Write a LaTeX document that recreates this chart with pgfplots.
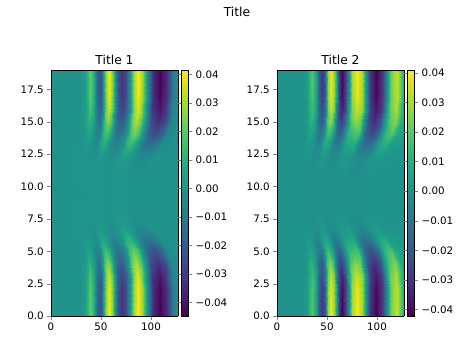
\documentclass[border=0pt]{standalone}
\usepackage{fontspec}
\setmainfont{DejaVu Sans}
\usepackage{pgfplots}
\usepackage{pgfplotstable}
\pgfplotsset{compat=1.18}
\pgfplotstableread{
x y v
0 0 0
30 0 0
34 0 .004
37 0 .013
39 0 .021
42 0 .012
44.5 0 0
46.5 0 -.017
49 0 -.024
51 0 -.015
52.5 0 0
55 0 .028
58 0 .041
61 0 .028
64 0 0
67 0 -.024
71 0 -.033
75 0 -.024
79 0 0
83 0 .03
87 0 .042
91 0 .03
96 0 0
102 0 -.035
109 0 -.0445
116 0 -.033
122 0 -.008
127 0 0
0 2 0
30 2 0
34 2 .0037
37 2 .0121
39 2 .0195
42 2 .0112
44.5 2 0
46.5 2 -.0158
49 2 -.0223
51 2 -.0143
52.5 2 0
55 2 .0266
58 2 .039
61 2 .0266
64 2 0
67 2 -.0228
71 2 -.0314
75 2 -.0228
79 2 0
83 2 .0291
87 2 .0407
91 2 .0291
96 2 0
102 2 -.034
109 2 -.0432
116 2 -.032
122 2 -.0078
127 2 0
0 3 0
29.9 3 0
33.8 3 .0032
36.8 3 .0104
38.8 3 .0168
41.8 3 .0096
44.3 3 0
46.3 3 -.0136
48.8 3 -.0192
50.7 3 -.0128
52.2 3 0
54.7 3 .0238
57.7 3 .0349
60.7 3 .0238
63.7 3 0
66.7 3 -.0204
70.6 3 -.0281
74.6 3 -.0204
78.6 3 0
82.6 3 .027
86.6 3 .0378
90.5 3 .027
95.5 3 0
101.5 3 -.0315
108.5 3 -.04
115.4 3 -.0297
121.4 3 -.0072
127 3 0
0 3.5 0
29.7 3.5 0
33.7 3.5 .0027
36.6 3.5 .0088
38.6 3.5 .0143
41.6 3.5 .0082
44.1 3.5 0
46 3.5 -.0116
48.5 3.5 -.0163
50.5 3.5 -.0114
52 3.5 0
54.5 3.5 .0213
57.4 3.5 .0312
60.4 3.5 .0213
63.4 3.5 0
66.3 3.5 -.0182
70.3 3.5 -.0251
74.3 3.5 -.0182
78.2 3.5 0
82.2 3.5 .0249
86.1 3.5 .0349
90.1 3.5 .0249
95 3.5 0
101 3.5 -.0291
107.9 3.5 -.0369
114.8 3.5 -.0274
120.8 3.5 -.0066
127 3.5 0
0 4 0
29.4 4 0
33.3 4 .0022
36.3 4 .0072
38.2 4 .0116
41.2 4 .0066
43.6 4 0
45.6 4 -.0094
48 4 -.0132
50 4 -.0098
51.5 4 0
53.9 4 .0182
56.8 4 .0267
59.8 4 .0182
62.7 4 0
65.7 4 -.0156
69.6 4 -.0215
73.5 4 -.0156
77.4 4 0
81.3 4 .0225
85.3 4 .0315
89.2 4 .0225
94.1 4 0
100 4 -.0263
106.8 4 -.0334
113.7 4 -.0248
119.6 4 -.006
127 4 0
0 4.5 0
29.1 4.5 0
33 4.5 .0016
35.9 4.5 .0052
37.8 4.5 .0084
40.7 4.5 .0048
43.2 4.5 0
45.1 4.5 -.0068
47.5 4.5 -.0096
49.5 4.5 -.0077
50.9 4.5 0
53.4 4.5 .0143
56.3 4.5 .0209
59.2 4.5 .0143
62.1 4.5 0
65 4.5 -.0122
68.9 4.5 -.0168
72.8 4.5 -.0122
76.6 4.5 0
80.5 4.5 .0195
84.4 4.5 .0273
88.3 4.5 .0195
93.1 4.5 0
98.9 4.5 -.0228
105.7 4.5 -.0289
112.5 4.5 -.0215
118.3 4.5 -.0052
127 4.5 0
0 5 0
28.5 5 0
32.3 5 .001
35.2 5 .0033
37.1 5 .0053
39.9 5 .003
42.3 5 0
44.2 5 -.0043
46.6 5 -.006
48.5 5 -.0057
49.9 5 0
52.3 5 .0106
55.1 5 .0156
58 5 .0106
60.8 5 0
63.7 5 -.0091
67.5 5 -.0125
71.3 5 -.0091
75 5 0
78.9 5 .0159
82.7 5 .0223
86.5 5 .0159
91.2 5 0
96.9 5 -.0186
103.6 5 -.0236
110.2 5 -.0175
115.9 5 -.0042
127 5 0
0 5.5 0
27.6 5.5 0
31.3 5.5 .0006
34 5.5 .002
35.9 5.5 .0032
38.6 5.5 .0018
40.9 5.5 0
42.8 5.5 -.0026
45.1 5.5 -.0036
46.9 5.5 -.0038
48.3 5.5 0
50.6 5.5 .007
53.4 5.5 .0103
56.1 5.5 .007
58.9 5.5 0
61.6 5.5 -.006
65.3 5.5 -.0083
69 5.5 -.006
72.7 5.5 0
76.4 5.5 .0114
80 5.5 .016
83.7 5.5 .0114
88.3 5.5 0
93.8 5.5 -.0133
100.3 5.5 -.0169
106.7 5.5 -.0125
112.2 5.5 -.003
127 5.5 0
0 6 0
26.7 6 0
30.3 6 .0003
32.9 6 .001
34.7 6 .0017
37.4 6 .001
39.6 6 0
41.4 6 -.0014
43.6 6 -.0019
45.4 6 -.0023
46.7 6 0
49 6 .0042
51.6 6 .0062
54.3 6 .0042
57 6 0
59.6 6 -.0036
63.2 6 -.005
66.8 6 -.0036
70.3 6 0
73.9 6 .0075
77.4 6 .0105
81 6 .0075
85.4 6 0
90.8 6 -.0088
97 6 -.0111
103.2 6 -.0083
108.6 6 -.002
127 6 0
0 6.5 0
25.8 6.5 0
29.2 6.5 .0002
31.8 6.5 .0005
33.5 6.5 .0008
36.1 6.5 .0005
38.3 6.5 0
40 6.5 -.0007
42.1 6.5 -.001
43.9 6.5 -.0012
45.2 6.5 0
47.3 6.5 .0022
49.9 6.5 .0033
52.5 6.5 .0022
55 6.5 0
57.6 6.5 -.0019
61.1 6.5 -.0026
64.5 6.5 -.0019
67.9 6.5 0
71.4 6.5 .0039
74.8 6.5 .0055
78.3 6.5 .0039
82.6 6.5 0
87.7 6.5 -.0046
93.7 6.5 -.0058
99.8 6.5 -.0043
104.9 6.5 -.001
127 6.5 0
0 7 0
24.9 7 0
28.2 7 .0001
30.7 7 .0003
32.4 7 .0004
34.9 7 .0002
36.9 7 0
38.6 7 -.0003
40.7 7 -.0005
42.3 7 -.0006
43.6 7 0
45.7 7 .0011
48.1 7 .0016
50.6 7 .0011
53.1 7 0
55.6 7 -.001
58.9 7 -.0013
62.3 7 -.001
65.6 7 0
68.9 7 .0018
72.2 7 .0025
75.5 7 .0018
79.7 7 0
84.7 7 -.0021
90.5 7 -.0027
96.3 7 -.002
101.3 7 -.0005
127 7 0
0 8 0
23.4 8 0
26.5 8 0
28.9 8 .0001
30.4 8 .0001
32.8 8 .0001
34.7 8 0
36.3 8 -.0001
38.2 8 -.0001
39.8 8 -.0002
41 8 0
42.9 8 .0003
45.2 8 .0004
47.6 8 .0003
49.9 8 0
52.3 8 -.0002
55.4 8 -.0003
58.5 8 -.0002
61.6 8 0
64.7 8 .0005
67.9 8 .0006
71 8 .0005
74.9 8 0
79.6 8 -.0005
85 8 -.0007
90.5 8 -.0005
95.2 8 -.0001
127 8 0
0 9.5 0
23.4 9.5 0
26.5 9.5 0
28.9 9.5 0
30.4 9.5 0
32.8 9.5 0
34.7 9.5 0
36.3 9.5 0
38.2 9.5 0
39.8 9.5 0
41 9.5 0
42.9 9.5 0
45.2 9.5 0
47.6 9.5 0
49.9 9.5 0
52.3 9.5 0
55.4 9.5 0
58.5 9.5 0
61.6 9.5 0
64.7 9.5 0
67.9 9.5 0
71 9.5 0
74.9 9.5 0
79.6 9.5 0
85 9.5 0
90.5 9.5 0
95.2 9.5 0
127 9.5 0
}\tabA
\pgfplotstableread{
x y v
0 0 0
26 0 0
30 0 .004
33 0 .014
35 0 .019
38 0 .01
40 0 0
42 0 -.02
45 0 -.03
47.5 0 -.02
49 0 0
51 0 .028
54 0 .04
57 0 .028
59.5 0 0
62 0 -.03
65 0 -.042
68 0 -.03
71.5 0 0
75 0 .03
80 0 .0405
85 0 .03
89 0 0
93 0 -.03
99 0 -.042
105 0 -.03
109.5 0 0
114 0 .024
120 0 .034
125 0 .015
127 0 .006
0 2 0
26 2 0
30 2 .0037
33 2 .013
35 2 .0177
38 2 .0093
40 2 0
42 2 -.0186
45 2 -.0279
47.5 2 -.0186
49 2 0
51 2 .0266
54 2 .038
57 2 .0266
59.5 2 0
62 2 -.0285
65 2 -.0399
68 2 -.0285
71.5 2 0
75 2 .0285
80 2 .0385
85 2 .0291
89 2 0
93 2 -.0291
99 2 -.0407
105 2 -.0291
109.5 2 0
114 2 .0233
120 2 .033
125 2 .0146
127 2 .0058
0 3 0
25.9 3 0
29.9 3 .0032
32.8 3 .0112
34.8 3 .0152
37.8 3 .008
39.8 3 0
41.8 3 -.016
44.8 3 -.024
47.3 3 -.016
48.8 3 0
50.7 3 .0238
53.7 3 .034
56.7 3 .0238
59.2 3 0
61.7 3 -.0255
64.7 3 -.0357
67.7 3 -.0255
71.1 3 0
74.6 3 .0255
79.6 3 .0344
84.6 3 .027
88.6 3 0
92.5 3 -.027
98.5 3 -.0378
104.5 3 -.027
109 3 0
113.4 3 .0216
119.4 3 .0306
124.4 3 .0135
127 3 .0054
0 3.5 0
25.7 3.5 0
29.7 3.5 .0028
32.7 3.5 .0098
34.7 3.5 .0133
37.6 3.5 .007
39.6 3.5 0
41.6 3.5 -.014
44.6 3.5 -.021
47 3.5 -.014
48.5 3.5 0
50.5 3.5 .0213
53.5 3.5 .0304
56.4 3.5 .0213
58.9 3.5 0
61.4 3.5 -.0228
64.4 3.5 -.0319
67.3 3.5 -.0228
70.8 3.5 0
74.3 3.5 .0228
79.2 3.5 .0308
84.2 3.5 .0249
88.1 3.5 0
92.1 3.5 -.0249
98 3.5 -.0349
104 3.5 -.0249
108.4 3.5 0
112.9 3.5 .0199
118.8 3.5 .0282
123.8 3.5 .0125
127 3.5 .005
0 4 0
25.5 4 0
29.4 4 .0024
32.3 4 .0084
34.3 4 .0114
37.2 4 .006
39.2 4 0
41.2 4 -.012
44.1 4 -.018
46.6 4 -.012
48 4 0
50 4 .0182
52.9 4 .026
55.9 4 .0182
58.3 4 0
60.8 4 -.0195
63.7 4 -.0273
66.6 4 -.0195
70.1 4 0
73.5 4 .0195
78.4 4 .0263
83.3 4 .0225
87.2 4 0
91.1 4 -.0225
97 4 -.0315
102.9 4 -.0225
107.3 4 0
111.7 4 .018
117.6 4 .0255
122.5 4 .0113
127 4 .0045
0 4.5 0
25.2 4.5 0
29.1 4.5 .0019
32 4.5 .0066
34 4.5 .0089
36.9 4.5 .0047
38.8 4.5 0
40.7 4.5 -.0094
43.7 4.5 -.0141
46.1 4.5 -.0094
47.5 4.5 0
49.5 4.5 .0143
52.4 4.5 .0204
55.3 4.5 .0143
57.7 4.5 0
60.1 4.5 -.0153
63.1 4.5 -.0214
66 4.5 -.0153
69.4 4.5 0
72.8 4.5 .0153
77.6 4.5 .0207
82.5 4.5 .0195
86.3 4.5 0
90.2 4.5 -.0195
96 4.5 -.0273
101.9 4.5 -.0195
106.2 4.5 0
110.6 4.5 .0156
116.4 4.5 .0221
121.3 4.5 .0098
127 4.5 .0039
0 5 0
24.7 5 0
28.5 5 .0013
31.4 5 .0046
33.3 5 .0063
36.1 5 .0033
38 5 0
39.9 5 -.0066
42.8 5 -.0099
45.1 5 -.0066
46.6 5 0
48.5 5 .0106
51.3 5 .0152
54.2 5 .0106
56.5 5 0
58.9 5 -.0114
61.8 5 -.016
64.6 5 -.0114
67.9 5 0
71.3 5 .0114
76 5 .0154
80.8 5 .0159
84.6 5 0
88.4 5 -.0159
94.1 5 -.0223
99.8 5 -.0159
104 5 0
108.3 5 .0127
114 5 .018
118.8 5 .008
127 5 .0032
0 5.5 0
23.9 5.5 0
27.6 5.5 .0008
30.4 5.5 .0028
32.2 5.5 .0038
35 5.5 .002
36.8 5.5 0
38.6 5.5 -.004
41.4 5.5 -.006
43.7 5.5 -.004
45.1 5.5 0
46.9 5.5 .007
49.7 5.5 .01
52.4 5.5 .007
54.7 5.5 0
57 5.5 -.0075
59.8 5.5 -.0105
62.6 5.5 -.0075
65.8 5.5 0
69 5.5 .0075
73.6 5.5 .0101
78.2 5.5 .0114
81.9 5.5 0
85.6 5.5 -.0114
91.1 5.5 -.016
96.6 5.5 -.0114
100.7 5.5 0
104.9 5.5 .0091
110.4 5.5 .0129
115 5.5 .0057
127 5.5 .0023
0 6 0
23.1 6 0
26.7 6 .0004
29.4 6 .0015
31.2 6 .0021
33.8 6 .0011
35.6 6 0
37.4 6 -.0022
40.1 6 -.0033
42.3 6 -.0022
43.6 6 0
45.4 6 .0042
48.1 6 .006
50.7 6 .0042
53 6 0
55.2 6 -.0045
57.9 6 -.0063
60.5 6 -.0045
63.6 6 0
66.8 6 .0045
71.2 6 .0061
75.7 6 .0075
79.2 6 0
82.8 6 -.0075
88.1 6 -.0105
93.5 6 -.0075
97.5 6 0
101.5 6 .006
106.8 6 .0085
111.3 6 .0038
127 6 .0015
0 6.5 0
22.4 6.5 0
25.8 6.5 .0002
28.4 6.5 .0008
30.1 6.5 .0011
32.7 6.5 .0006
34.4 6.5 0
36.1 6.5 -.0012
38.7 6.5 -.0018
40.9 6.5 -.0012
42.1 6.5 0
43.9 6.5 .0022
46.4 6.5 .0032
49 6.5 .0022
51.2 6.5 0
53.3 6.5 -.0024
55.9 6.5 -.0034
58.5 6.5 -.0024
61.5 6.5 0
64.5 6.5 .0024
68.8 6.5 .0032
73.1 6.5 .0039
76.5 6.5 0
80 6.5 -.0039
85.1 6.5 -.0055
90.3 6.5 -.0039
94.2 6.5 0
98 6.5 .0031
103.2 6.5 .0044
107.5 6.5 .002
127 6.5 .0008
0 7 0
21.6 7 0
24.9 7 .0001
27.4 7 .0004
29.1 7 .0006
31.5 7 .0003
33.2 7 0
34.9 7 -.0006
37.4 7 -.0009
39.4 7 -.0006
40.7 7 0
42.3 7 .0011
44.8 7 .0016
47.3 7 .0011
49.4 7 0
51.5 7 -.0012
54 7 -.0017
56.4 7 -.0012
59.3 7 0
62.3 7 .0012
66.4 7 .0016
70.6 7 .0018
73.9 7 0
77.2 7 -.0018
82.2 7 -.0025
87.2 7 -.0018
90.9 7 0
94.6 7 .0014
99.6 7 .002
103.8 7 .0009
127 7 .0004
0 8 0
20.3 8 0
23.4 8 0
25.7 8 .0001
27.3 8 .0002
29.6 8 .0001
31.2 8 0
32.8 8 -.0002
35.1 8 -.0002
37.1 8 -.0002
38.2 8 0
39.8 8 .0003
42.1 8 .0004
44.5 8 .0003
46.4 8 0
48.4 8 -.0003
50.7 8 -.0004
53 8 -.0003
55.8 8 0
58.5 8 .0003
62.4 8 .0004
66.3 8 .0005
69.4 8 0
72.5 8 -.0005
77.2 8 -.0006
81.9 8 -.0005
85.4 8 0
88.9 8 .0004
93.6 8 .0005
97.5 8 .0002
127 8 .0001
0 9.5 0
20.3 9.5 0
23.4 9.5 0
25.7 9.5 0
27.3 9.5 0
29.6 9.5 0
31.2 9.5 0
32.8 9.5 0
35.1 9.5 0
37.1 9.5 0
38.2 9.5 0
39.8 9.5 0
42.1 9.5 0
44.5 9.5 0
46.4 9.5 0
48.4 9.5 0
50.7 9.5 0
53 9.5 0
55.8 9.5 0
58.5 9.5 0
62.4 9.5 0
66.3 9.5 0
69.4 9.5 0
72.5 9.5 0
77.2 9.5 0
81.9 9.5 0
85.4 9.5 0
88.9 9.5 0
93.6 9.5 0
97.5 9.5 0
127 9.5 0
}\tabB
\pgfplotsset{
  hm/.style={
    scale only axis, width=127pt, height=246pt,
    anchor=south west,
    view={0}{90},
    xmin=0, xmax=127, ymin=0, ymax=19,
    colormap name=viridis,
    axis on top,
    tick align=outside,
    xtick pos=left, ytick pos=left,
    major tick length=3.6pt,
    line width=0.8pt,
    xtick={0,50,100}, xticklabels={0,50,100},
    ytick={0,2.5,5,7.5,10,12.5,15,17.5},
    yticklabels={0.0,2.5,5.0,7.5,10.0,12.5,15.0,17.5},
    ztick=\empty,
    tick label style={font=\fontsize{10.3}{12}\selectfont},
    title style={font=\fontsize{12.3}{14}\selectfont, yshift=-4.5pt},
    colorbar,
    colorbar shift/.style={xshift=3pt},
  },
  sf/.style={surf, shader=interp, mesh/ordering=x varies},
  cb/.style={width=7pt, ytick={-0.04,-0.03,-0.02,-0.01,0,0.01,0.02,0.03,0.04},
    yticklabels={−0.04,−0.03,−0.02,−0.01,0.00,0.01,0.02,0.03,0.04},
    scaled y ticks=false,
    tick align=outside, major tick length=3.6pt, line width=0.8pt,
    tick label style={font=\fontsize{10.3}{12}\selectfont}}
}
\begin{document}
\begin{tikzpicture}[x=1pt,y=1pt]
\path[use as bounding box] (0,0) rectangle (474,355);
\node[font=\fontsize{12.3}{14}\selectfont] at (237,343) {Title};
\begin{axis}[hm, at={(51pt,39pt)}, title={Title 1},
  point meta min=-0.0447, point meta max=0.0416,
  colorbar style={cb}]
\addplot3[sf, mesh/cols=28] table[x=x,y=y,z=v]{\tabA};
\addplot3[sf, mesh/cols=28] table[x=x,y expr=19-\thisrow{y},z=v]{\tabA};
\end{axis}
\begin{axis}[hm, at={(277pt,39pt)}, title={Title 2},
  point meta min=-0.0422, point meta max=0.0409,
  colorbar style={cb}]
\addplot3[sf, mesh/cols=31] table[x=x,y=y,z=v]{\tabB};
\addplot3[sf, mesh/cols=31] table[x=x,y expr=19-\thisrow{y},z=v]{\tabB};
\end{axis}
\end{tikzpicture}
\end{document}
